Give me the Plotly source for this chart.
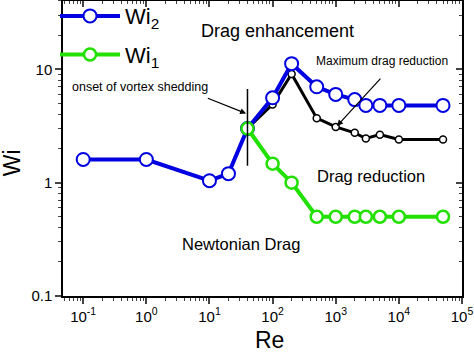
import plotly.graph_objects as go

re_wi2 = [0.1, 1, 10, 20, 40, 100, 200, 500, 1000, 2000, 3000, 5000, 10000, 50000]
wi2 = [1.6, 1.6, 1.04, 1.2, 3.0, 5.6, 11.2, 7.0, 6.0, 5.4, 4.8, 4.8, 4.8, 4.8]

re_wi1 = [40, 100, 200, 500, 1000, 2000, 3000, 5000, 10000, 50000]
wi1 = [3.0, 1.47, 1.0, 0.5, 0.5, 0.5, 0.5, 0.5, 0.5, 0.5]

re_dr = [40, 100, 200, 500, 1000, 2000, 3000, 5000, 10000, 50000]
wi_dr = [3.0, 4.9, 9.1, 3.7, 3.1, 2.75, 2.45, 2.65, 2.4, 2.4]

onset_re = 40
onset_wi = [1.41, 6.7]

x_ticks = [0.1, 1, 10, 100, 1000, 10000, 100000]
x_labels = ["10<sup>-1</sup>", "10<sup>0</sup>", "10<sup>1</sup>", "10<sup>2</sup>",
            "10<sup>3</sup>", "10<sup>4</sup>", "10<sup>5</sup>"]
y_ticks = [0.1, 1, 10]
y_labels = ["0.1", "1", "10"]

x_minor = [m * 10 ** e for e in range(-2, 5) for m in range(2, 10)]
y_minor = [m * 10 ** e for e in range(-1, 2) for m in range(2, 10)]

FONT = "Liberation Sans, Arial, sans-serif"

fig = go.Figure()

fig.add_trace(go.Scatter(
    x=re_dr, y=wi_dr, mode="lines+markers", showlegend=False,
    line=dict(color="black", width=3),
    marker=dict(symbol="circle", size=7, color="white", line=dict(color="black", width=1.5)),
))
fig.add_trace(go.Scatter(
    x=re_wi2, y=wi2, mode="lines+markers", name="Wi<sub>2</sub>", legendrank=1, legendgroup="a",
    line=dict(color="#0000e0", width=4),
    marker=dict(symbol="circle", size=13, color="white", line=dict(color="#0000e0", width=2)),
))
fig.add_trace(go.Scatter(
    x=re_wi1, y=wi1, mode="lines+markers", name="Wi<sub>1</sub>", legendrank=2, legendgroup="b",
    line=dict(color="#22e000", width=4),
    marker=dict(symbol="circle", size=12, color="white", line=dict(color="#22e000", width=2.5)),
))
fig.add_trace(go.Scatter(
    x=[onset_re, onset_re], y=onset_wi, mode="lines", showlegend=False,
    line=dict(color="black", width=1.5),
))
fig.add_trace(go.Scatter(x=[1], y=[1], xaxis="x2", yaxis="y2", mode="markers",
                         marker=dict(opacity=0), showlegend=False, hoverinfo="skip"))

axis_common = dict(type="log", showgrid=False, zeroline=False, showline=True,
                   linecolor="black", linewidth=1.5, automargin=False)

fig.update_layout(
    width=474, height=355,
    margin=dict(l=63, r=12, t=1, b=59, autoexpand=False),
    paper_bgcolor="white", plot_bgcolor="white",
    font=dict(family=FONT, color="black"),
    xaxis=dict(**axis_common, range=[-1.32, 5], tickvals=x_ticks, ticktext=x_labels,
               ticks="outside", ticklen=6, tickwidth=1.5, tickfont=dict(size=15),
               minor=dict(ticks="outside", ticklen=3, tickwidth=1, tickvals=x_minor)),
    yaxis=dict(**axis_common, range=[-1, 1.602], tickvals=y_ticks, ticktext=y_labels,
               ticks="outside", ticklen=6, tickwidth=1.5, tickfont=dict(size=15),
               minor=dict(ticks="outside", ticklen=3, tickwidth=1, tickvals=y_minor)),
    xaxis2=dict(**axis_common, range=[-1.32, 5], overlaying="x", side="top",
                tickvals=x_ticks, showticklabels=False, ticks="inside", ticklen=6, tickwidth=1.5,
                minor=dict(ticks="inside", ticklen=3, tickwidth=1, tickvals=x_minor)),
    yaxis2=dict(**axis_common, range=[-1, 1.602], overlaying="y", side="right",
                tickvals=y_ticks, showticklabels=False, ticks="inside", ticklen=6, tickwidth=1.5,
                minor=dict(ticks="inside", ticklen=3, tickwidth=1, tickvals=y_minor)),
    legend=dict(x=-0.02, y=1.02, xanchor="left", yanchor="top", bgcolor="rgba(0,0,0,0)",
                font=dict(size=22), tracegroupgap=7, itemwidth=60),
    showlegend=True,
)

# axis titles
fig.add_annotation(x=0.5, y=0, xref="paper", yref="paper", yshift=-44, xshift=7, text="Re",
                   showarrow=False, font=dict(size=23), yanchor="middle")
fig.add_annotation(x=0, y=0.45, xref="paper", yref="paper", xshift=-51, text="Wi",
                   showarrow=False, font=dict(size=23), textangle=-90, xanchor="center")

# text annotations (log10 coordinates)
fig.add_annotation(x=2.07, y=1.34, xref="x", yref="y", text="Drag enhancement",
                   showarrow=False, font=dict(size=18))
fig.add_annotation(x=3.735, y=1.075, xref="x", yref="y", text="Maximum drag reduction",
                   showarrow=False, font=dict(size=12))
fig.add_annotation(x=-0.10, y=0.846, xref="x", yref="y", text="onset of vortex shedding",
                   showarrow=False, font=dict(size=12.5))
fig.add_annotation(x=3.56, y=0.06, xref="x", yref="y", text="Drag reduction",
                   showarrow=False, font=dict(size=16.5))
fig.add_annotation(x=1.50, y=-0.54, xref="x", yref="y", text="Newtonian Drag",
                   showarrow=False, font=dict(size=16.5))
# arrows
fig.add_annotation(x=3.02, y=0.5, ax=3.73, ay=0.93, xref="x", yref="y", axref="x", ayref="y",
                   text="", showarrow=True, arrowhead=2, arrowsize=1, arrowwidth=1.2,
                   arrowcolor="black")
fig.add_annotation(x=1.58, y=0.61, ax=0.95, ay=0.75, xref="x", yref="y", axref="x", ayref="y",
                   text="", showarrow=True, arrowhead=2, arrowsize=1, arrowwidth=1.2,
                   arrowcolor="black")

fig.write_html("out.html", config={"displayModeBar": False},
               post_script="document.body.style.margin='0';document.body.style.overflow='hidden';")
